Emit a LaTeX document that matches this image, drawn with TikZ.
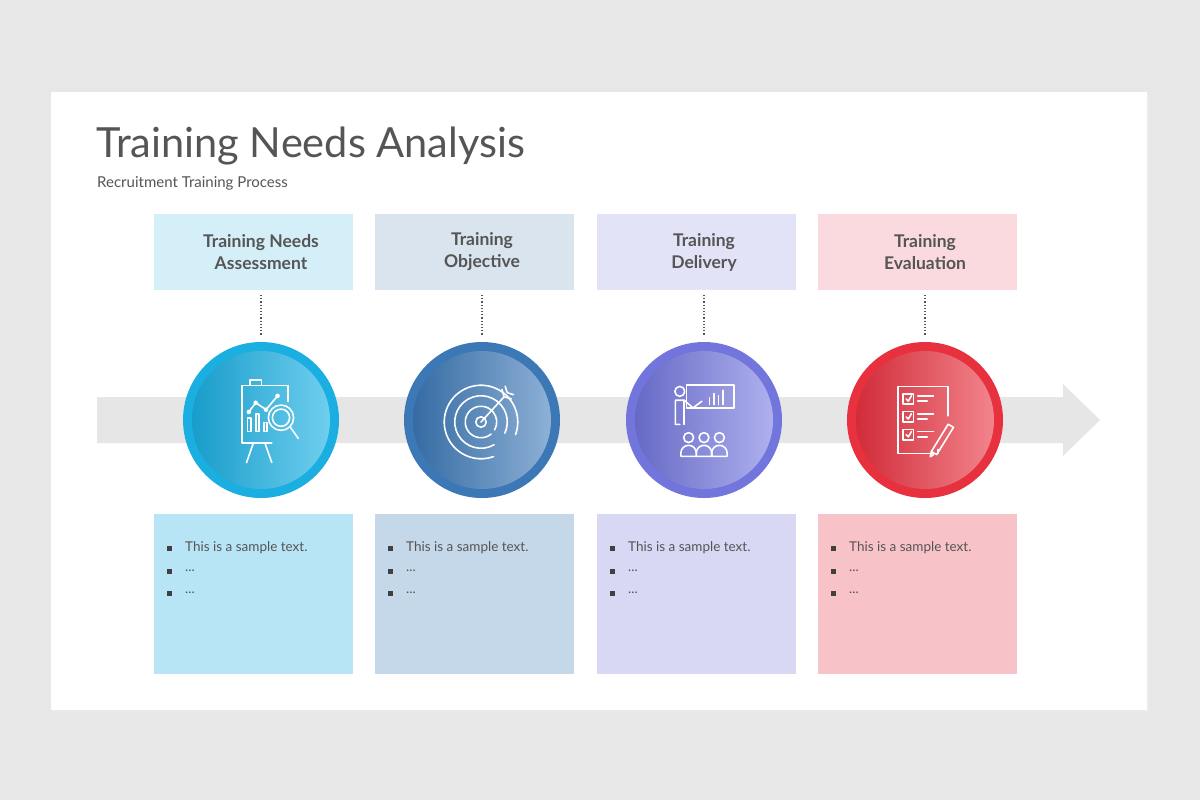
\documentclass[tikz,border=0pt]{standalone}
\usepackage{fontspec}
\setmainfont{Lato}
\usetikzlibrary{shadings}
\definecolor{bg}{HTML}{E8E7E8}
\definecolor{tx}{HTML}{555555}
\definecolor{band}{HTML}{E6E6E6}
\definecolor{tA}{HTML}{D4EFF8}\definecolor{tB}{HTML}{D9E4EF}\definecolor{tC}{HTML}{E3E3F7}\definecolor{tD}{HTML}{FADADF}
\definecolor{bA}{HTML}{B8E5F5}\definecolor{bB}{HTML}{C5D8E9}\definecolor{bC}{HTML}{D8D8F5}\definecolor{bD}{HTML}{F8C3C8}
\definecolor{rA}{HTML}{1BAEE0}\definecolor{lA}{HTML}{6FCFEF}
\definecolor{rB}{HTML}{3B78B5}\definecolor{lB}{HTML}{8DB0D6}
\definecolor{rC}{HTML}{7275DB}\definecolor{lC}{HTML}{AEB0EE}
\definecolor{rD}{HTML}{E8313F}\definecolor{lD}{HTML}{F2848C}
\tikzset{
 topbox/.style={minimum width=199pt,minimum height=76pt,inner sep=0pt},
 toptxt/.style={inner sep=0pt,text=tx,font=\bfseries\fontsize{17.5}{22}\selectfont,align=center},
 botbox/.style={minimum width=199pt,minimum height=160pt,inner sep=0pt},
 btxt/.style={anchor=west,text=tx,font=\fontsize{13.5}{15}\selectfont,inner sep=0pt},
 ic/.style={white,line width=1.6pt,line cap=round,line join=round},
 dotl/.style={line width=1.2pt,dash pattern=on 1.2pt off 2pt,tx}
}
\newcommand{\bul}[3]{\fill[black!75] (#1-94,#2-2.5) rectangle ++(5,5);
  \node[btxt] at (#1-76,#2) {#3};}
\newcommand{\stage}[6]{% x, topcol, botcol, ring, light, label
 \node[topbox,fill=#2] (t#1) at (#1-7.5,252) {};
 \node[toptxt] (l#1) at (#1,252) {#6};
 \node[botbox,fill=#3] (b#1) at (#1-7.5,594) {};
 \coordinate (d1#1) at (#1,295); \coordinate (d2#1) at (#1,335);
 \draw[dotl] (d1#1) -- (d2#1);
 \fill[#4] (#1,420) circle (78pt);
 \shade[left color=#4!90!black,right color=#5] (#1,420) circle (69pt);
 \bul{#1}{548}{This is a sample text.}
 \bul{#1}{571}{...}
 \bul{#1}{593}{...}
}
\begin{document}
\begin{tikzpicture}[x=1pt,y=-1pt]
\fill[bg] (0,0) rectangle (1200,800);
\fill[black!8] (53,94) rectangle (1149,712);
\fill[white] (51,92) rectangle (1147,710);
\node[anchor=base west,inner sep=0pt,text=tx,font=\fontsize{41.5}{44}\selectfont] (title) at (96,157) {Training Needs Analysis};
\node[anchor=base west,inner sep=0pt,text=tx,font=\fontsize{15}{17}\selectfont] (sub) at (97,187) {Recruitment Training Process};
\fill[band] (97,397) -- (1063,397) -- (1063,384) -- (1100,420) -- (1063,456) -- (1063,443) -- (97,443) -- cycle;
\stage{261}{tA}{bA}{rA}{lA}{Training Needs\\Assessment}
\stage{482}{tB}{bB}{rB}{lB}{Training\\Objective}
\stage{704}{tC}{bC}{rC}{lC}{Training\\Delivery}
\stage{925}{tD}{bD}{rD}{lD}{Training\\Evaluation}
% icon 1
\begin{scope}[shift={(258,420)},scale=1.15,ic]
\draw (-7,-30) rectangle (3,-35);
\draw (-14,-5) -- (-14,-30) -- (26,-30) -- (26,-16);
\draw (-14,-5) -- (-14,20) -- (12,20);
\draw (-4,20) -- (-10,37); \draw (6,20) -- (12,37);
\draw (-8,-7) -- (-2,-15) -- (7,-9) -- (17,-21);
\fill (-8,-7) circle (2); \fill (-2,-15) circle (2); \fill (7,-9) circle (2); \fill (17,-21) circle (2);
\draw (-9,10) rectangle (-6,-2); \draw (-2,10) rectangle (1,-5); \draw (5,10) rectangle (8,2);
\draw (20,-2) circle (11); \draw (20,-2) circle (7.5);
\draw (28,6) -- (35,16);
\end{scope}
% icon 2
\begin{scope}[shift={(481,422)},scale=1.05,ic]
\draw (70:35) arc (70:380:35);
\draw (60:25) arc (60:385:25);
\draw (50:15) arc (50:390:15);
\draw (0,0) circle (5);
\draw (0,0) -- (22,-24);
\draw (22,-24) -- (20,-31) (22,-24) -- (29,-22) (25,-28) -- (23,-34) (25,-28) -- (31,-26);
\end{scope}
% icon 3
\begin{scope}[shift={(704,420)},scale=1.1,ic]
\draw (-16,-11) rectangle (27,-32);
\draw (5,-14) -- (5,-20) (9,-14) -- (9,-24) (13,-14) -- (13,-22) (17,-14) -- (17,-27);
\draw (-22,-26) circle (4.5);
\draw (-22,4) -- (-26,4) -- (-26,-18) -- (-18,-18) -- (-10,-11) -- (-2,-17);
\draw (-18,-18) -- (-18,4);
\draw (-14,16) circle (4.5); \draw (0,16) circle (4.5); \draw (14,16) circle (4.5);
\draw (-21,33) -- (-21,30) arc (180:360:7) -- (-7,33) -- cycle;
\draw (-7,33) -- (-7,30) arc (180:360:7) -- (7,33) -- cycle;
\draw (7,33) -- (7,30) arc (180:360:7) -- (21,33) -- cycle;
\end{scope}
% icon 4
\begin{scope}[shift={(923,420)},scale=1.05,ic]
\draw (14,28) -- (14,32) -- (-24,32) -- (-24,-32) -- (24,-32) -- (24,-4);
\foreach \yy in {-20,-3,14}{
 \draw (-19,\yy-5) rectangle (-9,\yy+5);
 \draw (-16,\yy) -- (-14,\yy+2) -- (-11,\yy-3);
 \draw (-5,\yy-3) -- (10,\yy-3); \draw (-5,\yy+2) -- (4,\yy+2);}
\draw (8,30) -- (24,4) -- (29,7) -- (13,33) -- cycle;
\draw (8,30) -- (7,35) -- (10,33);
\end{scope}
\end{tikzpicture}
\end{document}
